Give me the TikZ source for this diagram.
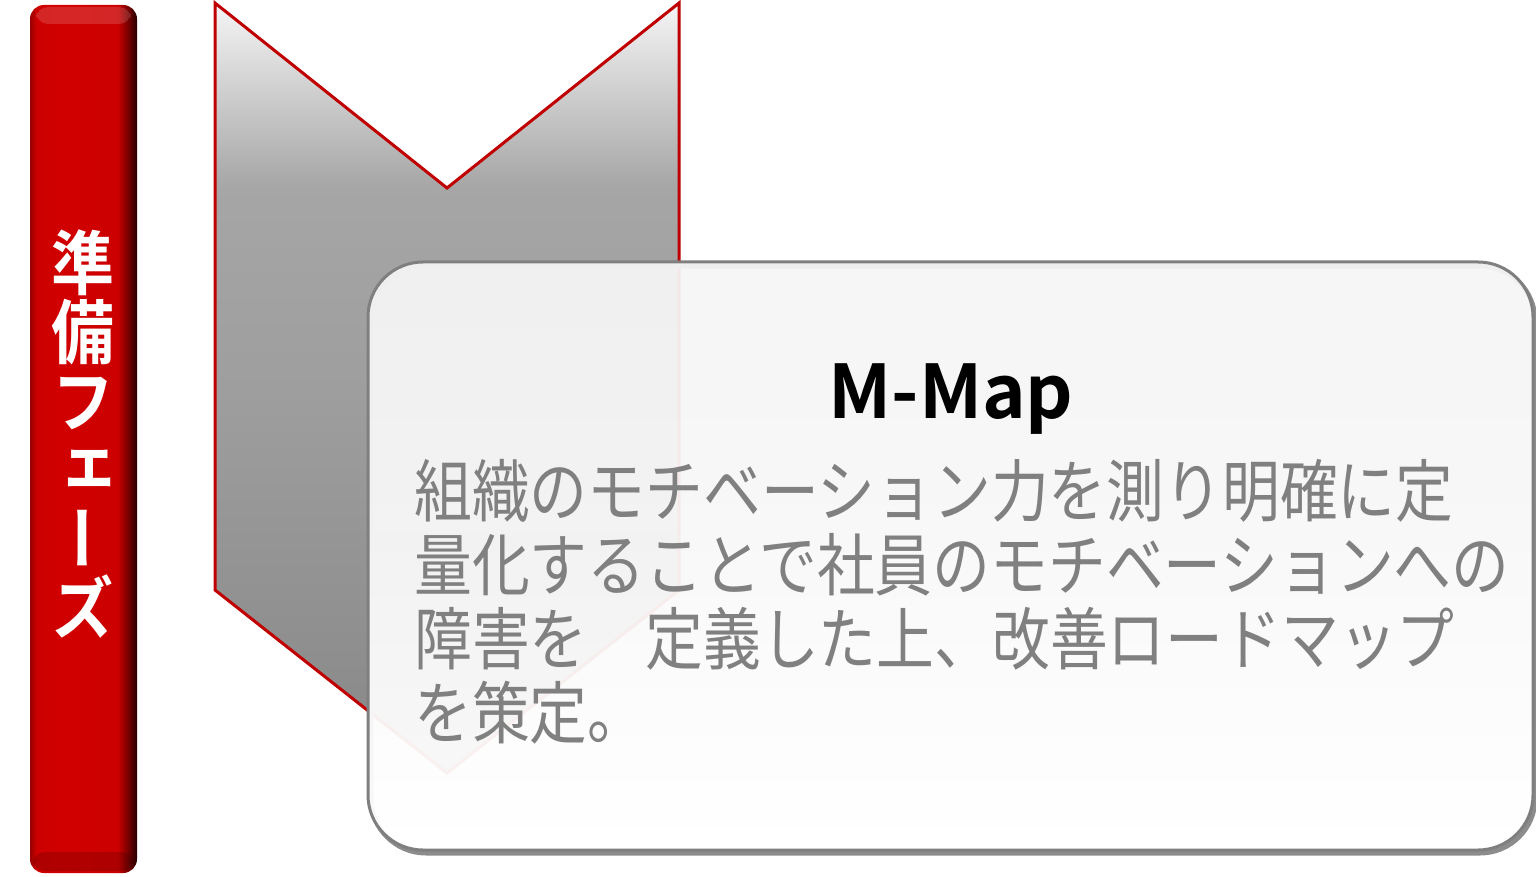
\documentclass[tikz,border=0pt]{standalone}
\usepackage{fontspec}
\usepackage{xcolor}
\usepackage{tikz}

\newfontfamily\bodyfont{Noto Sans CJK JP}[FakeStretch=0.85]
\newfontfamily\titlefont{Noto Sans CJK JP Bold}
\newfontfamily\phasefont{Noto Sans CJK JP Bold}[FakeStretch=0.9,RawFeature=+vert]

\definecolor{chevred}{HTML}{C00000}
\definecolor{boxgray}{HTML}{7F7F7F}
\definecolor{textgray}{HTML}{808080}

%% shadings (visible part runs from 25bp to 75bp)
\pgfdeclarehorizontalshading{barshade}{100bp}{color(0bp)=(red!60!black); color(25bp)=(red!60!black);
  color(28bp)=(red!80!black); color(40bp)=(red!82!black); color(66bp)=(red!80!black);
  color(71bp)=(red!45!black); color(75bp)=(red!15!black); color(100bp)=(red!15!black)}
\pgfdeclareverticalshading{chevshade}{100bp}{color(0bp)=(black!47); color(25bp)=(black!47);
  color(50bp)=(black!38); color(63bp)=(black!35); color(75bp)=(black!4); color(100bp)=(black!4)}
\pgfdeclareverticalshading{boxshade}{100bp}{color(0bp)=(white); color(25bp)=(white);
  color(55bp)=(black!3); color(75bp)=(black!4); color(100bp)=(black!4)}

\begin{document}
\begin{tikzpicture}[x=1pt,y=-1pt]
                \useasboundingbox (0,0) rectangle (1536,877);

                %% phase bar
                \shade[shading=barshade, rounded corners=14] (30,5) rectangle (137,873);
                \fill[white, opacity=0.15, rounded corners=12] (36,7) rectangle (131,24);
                \fill[black, opacity=0.15, rounded corners=12] (33,852) rectangle (134,871);
                \node[anchor=north, align=center, inner sep=0, text=white,
                      font=\phasefont\fontsize{70}{69}\selectfont] (phase) at (83,230)
                      {準\\備\\フ\\ェ\\ー\\ズ};

                %% chevron
                \shadedraw[shading=chevshade, draw=chevred, line width=3]
                      (215,3) -- (447,188) -- (679,3) -- (679,590) -- (447,773) -- (215,590) -- cycle;

                %% box
                \draw[black!45, line width=5, rounded corners=55] (371,266) rectangle (1535,853);
                \shadedraw[shading=boxshade, fill opacity=0.95, draw=boxgray, line width=3,
                      rounded corners=55] (368,262) rectangle (1533,850);

                \node[anchor=base, inner sep=0, font=\titlefont\fontsize{74}{80}\selectfont] (title)
                      at (951,418) {M-Map};
                \node[anchor=north west, align=left, inner sep=0, text=textgray,
                      font=\bodyfont\fontsize{68}{74}\selectfont] (desc) at (414,459)
                      {組織のモチベーション力を測り明確に定\\
                       量化することで社員のモチベーションへの\\
                       障害を　定義した上、改善ロードマップ\\
                       を策定。};

            \end{tikzpicture}
\end{document}
